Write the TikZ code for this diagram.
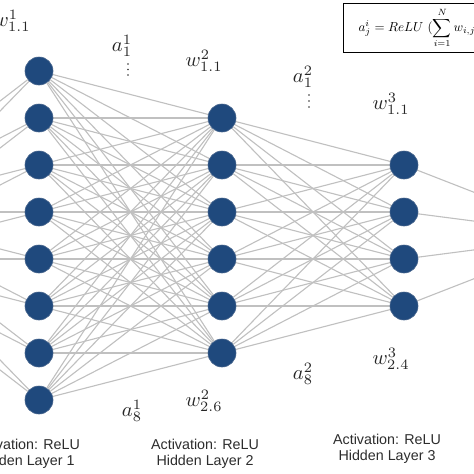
\documentclass[tikz,border=0pt]{standalone}
\usepackage{amsmath}
\usepackage{fontspec}
\setmainfont{Liberation Sans}
\usetikzlibrary{backgrounds}
\definecolor{nodeblue}{RGB}{31,73,125}
\definecolor{nodeedge}{RGB}{70,100,140}
\definecolor{edgegray}{RGB}{192,192,192}
\definecolor{captext}{RGB}{45,45,45}
\newcommand\mlab[1]{\scalebox{2.05}{$#1$}}
\tikzset{
  neuron/.style={circle, fill=nodeblue, draw=nodeedge, line width=0.6pt, minimum size=28pt, inner sep=0pt},
  edge/.style={draw=edgegray, line width=1.1pt},
  mlabel/.style={inner sep=0pt, text=black!85},
  caption/.style={font=\fontsize{14.3}{16.5}\selectfont, align=center, text=captext, inner sep=0pt},
  ellip/.style={circle, fill=black!80, inner sep=0pt, minimum size=1.6pt}
}
\begin{document}
\begin{tikzpicture}[x=1pt,y=-1pt]
\useasboundingbox (0,0) rectangle (474,474);
\clip (0,0) rectangle (474,474);
% free ends outside the crop
\coordinate (in1) at (-144,212);
\coordinate (in2) at (-144,259);
\coordinate (out) at (585,235.5);
% neurons
\foreach \i in {1,...,8} \node[neuron] (a\i) at (39,{71+47*(\i-1)}) {};
\foreach \i in {1,...,6} \node[neuron] (b\i) at (222,{118+47*(\i-1)}) {};
\foreach \i in {1,...,4} \node[neuron] (c\i) at (404,{165+47*(\i-1)}) {};
% connectors
\begin{scope}[on background layer]
\fill[white] (0,0) rectangle (474,474);
\foreach \i in {1,...,8} {
  \draw[edge] (in1) -- (a\i);
  \draw[edge] (in2) -- (a\i);
  \foreach \j in {1,...,6} \draw[edge] (a\i) -- (b\j);
}
\foreach \i in {1,...,6} \foreach \j in {1,...,4} \draw[edge] (b\i) -- (c\j);
\foreach \j in {1,...,4} \draw[edge] (c\j) -- (out);
\end{scope}
% labels
\node[mlabel] (w11) at (12,21) {\mlab{w^{1}_{1.1}}};
\node[mlabel] (a11) at (122,46) {\mlab{a^{1}_{1}}};
\node[ellip] (d1a) at (128,64) {};
\node[ellip] (d1b) at (128,69.5) {};
\node[ellip] (d1c) at (128,75) {};
\node[mlabel] (w21) at (204,61) {\mlab{w^{2}_{1.1}}};
\node[mlabel] (a21) at (303,77) {\mlab{a^{2}_{1}}};
\node[ellip] (d2a) at (309,95) {};
\node[ellip] (d2b) at (309,101) {};
\node[ellip] (d2c) at (309,107) {};
\node[mlabel] (w31) at (391,104) {\mlab{w^{3}_{1.1}}};
\node[mlabel] (a18) at (132,411) {\mlab{a^{1}_{8}}};
\node[mlabel] (w26) at (204,401) {\mlab{w^{2}_{2.6}}};
\node[mlabel] (a28) at (303,374) {\mlab{a^{2}_{8}}};
\node[mlabel] (w34) at (391,359) {\mlab{w^{3}_{2.4}}};
% formula box
\node[draw, line width=1.1pt, anchor=north west, minimum height=49pt, text width=160pt, inner xsep=15pt, inner ysep=0pt, align=left] (formula) at (343,3)
  {\scalebox{1.3}{$a_j^i = ReLU\ (\displaystyle\sum_{i=1}^{N} w_{i,j}\, a_i^{i-1})$}};
% captions
\node[caption] (cap1) at (26,454) {Activation: ReLU\\Hidden Layer 1};
\node[caption] (cap2) at (205,454) {Activation: ReLU\\Hidden Layer 2};
\node[caption] (cap3) at (387,449) {Activation: ReLU\\Hidden Layer 3};
\end{tikzpicture}
\end{document}
